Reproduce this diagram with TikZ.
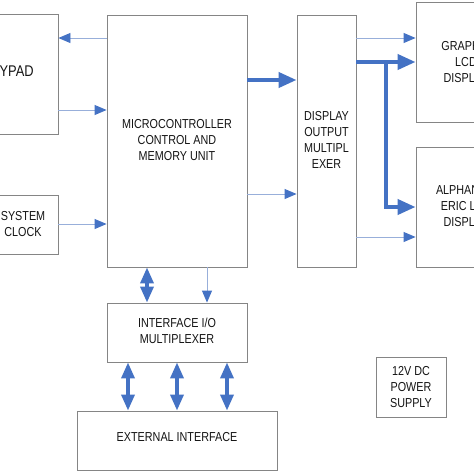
\documentclass[tikz,border=0pt]{standalone}
\usepackage{fontspec}
\setmainfont{Liberation Sans}[FakeStretch=0.83]
\usetikzlibrary{arrows.meta}
\definecolor{boxgray}{HTML}{858585}
\definecolor{arrblue}{HTML}{4472C4}
\definecolor{thinblue}{HTML}{98AFDA}
\definecolor{txt}{HTML}{151515}
\begin{document}
\begin{tikzpicture}[x=1pt,y=-1pt,
  box/.style={draw=boxgray,line width=0.9pt,fill=white,text=txt,align=center,
    font=\fontsize{13}{16}\selectfont,inner sep=0pt},
  thinarr/.style={draw=thinblue,line width=0.9pt,
    -{Triangle[length=12pt,width=10pt,color=arrblue]}},
  thickarr/.style={draw=arrblue,line width=4pt,
    -{Triangle[length=18pt,width=15pt]}},
  dblarr/.style={draw=arrblue,line width=3.5pt,
    {Triangle[length=16pt,width=13pt]}-{Triangle[length=16pt,width=13pt]}}]
\useasboundingbox (0,0) rectangle (474,474);
\clip (0,0) rectangle (474,474);
\fill[white] (0,0) rectangle (474,474);
% boxes
\node[box,minimum width=100pt,minimum height=120pt,font=\fontsize{15.5}{18}\selectfont] (kp) at (8,74) {\raisebox{6pt}{KEYPAD}};
\node[box,minimum width=70pt,minimum height=59pt] (clk) at (23,224.5) {SYSTEM\\CLOCK};
\node[box,minimum width=140pt,minimum height=252pt] (mcu) at (177,141) {\raisebox{6pt}{\begin{tabular}{@{}c@{}}MICROCONTROLLER\\CONTROL AND\\MEMORY UNIT\end{tabular}}};
\node[box,minimum width=140pt,minimum height=59pt] (iom) at (177,332.5) {\raisebox{5pt}{\begin{tabular}{@{}c@{}}INTERFACE I/O\\MULTIPLEXER\end{tabular}}};
\node[box,minimum width=200pt,minimum height=59pt] (ext) at (177,440.5) {\raisebox{7pt}{EXTERNAL INTERFACE}};
\node[box,minimum width=59pt,minimum height=252pt] (dom) at (326.5,141) {\raisebox{8pt}{\begin{tabular}{@{}c@{}}DISPLAY\\OUTPUT\\MULTIPL\\EXER\end{tabular}}};
\node[box,minimum width=100pt,minimum height=120pt] (gr) at (466,62) {GRAPHIC\\LCD\\DISPLAY};
\node[box,minimum width=100pt,minimum height=120pt] (al) at (466,207) {\raisebox{7pt}{\begin{tabular}{@{}c@{}}ALPHANUM\\ERIC LCD\\DISPLAY\end{tabular}}};
\node[box,minimum width=70pt,minimum height=60pt] (pw) at (411,387) {12V DC\\POWER\\SUPPLY};
% thin arrows
\draw[thinarr] (mcu.west |- 0,38) -- (kp.east |- 0,38);
\draw[thinarr] (kp.east |- 0,110) -- (mcu.west |- 0,110);
\draw[thinarr] (clk.east |- 0,224) -- (mcu.west |- 0,224);
\draw[thinarr] (mcu.east |- 0,194) -- (dom.west |- 0,194);
\draw[thinarr] (dom.east |- 0,38) -- (gr.west |- 0,38);
\draw[thinarr] (dom.east |- 0,237) -- (al.west |- 0,237);
\draw[thinarr] (mcu.south -| 207,0) -- (iom.north -| 207,0);
% thick arrows
\draw[thickarr] (mcu.east |- 0,80) -- (dom.west |- 0,80);
\draw[thickarr] (dom.east |- 0,62) -- (gr.west |- 0,62);
\coordinate (br) at (386,62);
\draw[thickarr,line join=miter] (br) |- (al.west |- 0,207);
% double arrows
\draw[dblarr] (mcu.south -| 147,0) -- (iom.north -| 147,0);
\draw[dblarr] (iom.south -| 128,0) -- (ext.north -| 128,0);
\draw[dblarr] (iom.south -| 177,0) -- (ext.north -| 177,0);
\draw[dblarr] (iom.south -| 227,0) -- (ext.north -| 227,0);
\end{tikzpicture}
\end{document}
